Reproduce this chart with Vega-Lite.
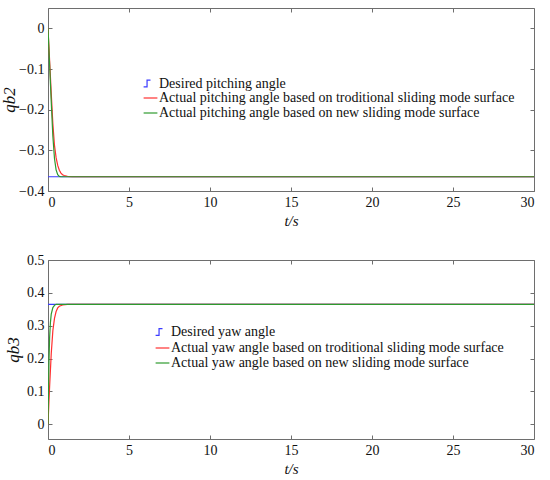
{
  "$schema": "https://vega.github.io/schema/vega-lite/v6.json",
  "background": "white",
  "padding": {"left": 0, "top": 7, "right": 10, "bottom": 5},
  "spacing": 23,
  "datasets": {
    "pitch": [
      {"t": 0, "q": -0.365, "s": "Desired pitching angle"},
      {"t": 30, "q": -0.365, "s": "Desired pitching angle"},
      {"t": 0, "q": 0, "s": "Actual pitching angle based on troditional sliding mode surface", "k": 1},
      {"t": 0.1, "q": -0.08, "s": "Actual pitching angle based on troditional sliding mode surface", "k": 1},
      {"t": 0.2, "q": -0.16, "s": "Actual pitching angle based on troditional sliding mode surface", "k": 1},
      {"t": 0.3, "q": -0.235, "s": "Actual pitching angle based on troditional sliding mode surface", "k": 1},
      {"t": 0.4, "q": -0.288, "s": "Actual pitching angle based on troditional sliding mode surface", "k": 1},
      {"t": 0.5, "q": -0.318, "s": "Actual pitching angle based on troditional sliding mode surface", "k": 1},
      {"t": 0.6, "q": -0.337, "s": "Actual pitching angle based on troditional sliding mode surface", "k": 1},
      {"t": 0.7, "q": -0.349, "s": "Actual pitching angle based on troditional sliding mode surface", "k": 1},
      {"t": 0.8, "q": -0.356, "s": "Actual pitching angle based on troditional sliding mode surface", "k": 1},
      {"t": 0.9, "q": -0.36, "s": "Actual pitching angle based on troditional sliding mode surface", "k": 1},
      {"t": 1.0, "q": -0.362, "s": "Actual pitching angle based on troditional sliding mode surface", "k": 1},
      {"t": 1.2, "q": -0.364, "s": "Actual pitching angle based on troditional sliding mode surface", "k": 1},
      {"t": 1.5, "q": -0.365, "s": "Actual pitching angle based on troditional sliding mode surface", "k": 1},
      {"t": 30, "q": -0.365, "s": "Actual pitching angle based on troditional sliding mode surface", "k": 1},
      {"t": 0, "q": 0, "s": "Actual pitching angle based on new sliding mode surface", "k": 2},
      {"t": 0.1, "q": -0.09, "s": "Actual pitching angle based on new sliding mode surface", "k": 2},
      {"t": 0.2, "q": -0.18, "s": "Actual pitching angle based on new sliding mode surface", "k": 2},
      {"t": 0.3, "q": -0.265, "s": "Actual pitching angle based on new sliding mode surface", "k": 2},
      {"t": 0.4, "q": -0.32, "s": "Actual pitching angle based on new sliding mode surface", "k": 2},
      {"t": 0.5, "q": -0.348, "s": "Actual pitching angle based on new sliding mode surface", "k": 2},
      {"t": 0.6, "q": -0.36, "s": "Actual pitching angle based on new sliding mode surface", "k": 2},
      {"t": 0.7, "q": -0.364, "s": "Actual pitching angle based on new sliding mode surface", "k": 2},
      {"t": 0.8, "q": -0.365, "s": "Actual pitching angle based on new sliding mode surface", "k": 2},
      {"t": 30, "q": -0.365, "s": "Actual pitching angle based on new sliding mode surface", "k": 2}
    ],
    "yaw": [
      {"t": 0, "q": 0.365, "s": "Desired yaw angle"},
      {"t": 30, "q": 0.365, "s": "Desired yaw angle"},
      {"t": 0, "q": 0, "s": "Actual yaw angle based on troditional sliding mode surface", "k": 1},
      {"t": 0.05, "q": 0.06, "s": "Actual yaw angle based on troditional sliding mode surface", "k": 1},
      {"t": 0.1, "q": 0.115, "s": "Actual yaw angle based on troditional sliding mode surface", "k": 1},
      {"t": 0.2, "q": 0.215, "s": "Actual yaw angle based on troditional sliding mode surface", "k": 1},
      {"t": 0.3, "q": 0.285, "s": "Actual yaw angle based on troditional sliding mode surface", "k": 1},
      {"t": 0.4, "q": 0.322, "s": "Actual yaw angle based on troditional sliding mode surface", "k": 1},
      {"t": 0.5, "q": 0.343, "s": "Actual yaw angle based on troditional sliding mode surface", "k": 1},
      {"t": 0.6, "q": 0.354, "s": "Actual yaw angle based on troditional sliding mode surface", "k": 1},
      {"t": 0.7, "q": 0.359, "s": "Actual yaw angle based on troditional sliding mode surface", "k": 1},
      {"t": 0.9, "q": 0.363, "s": "Actual yaw angle based on troditional sliding mode surface", "k": 1},
      {"t": 1.2, "q": 0.365, "s": "Actual yaw angle based on troditional sliding mode surface", "k": 1},
      {"t": 30, "q": 0.365, "s": "Actual yaw angle based on troditional sliding mode surface", "k": 1},
      {"t": 0, "q": 0, "s": "Actual yaw angle based on new sliding mode surface", "k": 2},
      {"t": 0.03, "q": 0.1, "s": "Actual yaw angle based on new sliding mode surface", "k": 2},
      {"t": 0.06, "q": 0.19, "s": "Actual yaw angle based on new sliding mode surface", "k": 2},
      {"t": 0.1, "q": 0.265, "s": "Actual yaw angle based on new sliding mode surface", "k": 2},
      {"t": 0.15, "q": 0.31, "s": "Actual yaw angle based on new sliding mode surface", "k": 2},
      {"t": 0.2, "q": 0.335, "s": "Actual yaw angle based on new sliding mode surface", "k": 2},
      {"t": 0.3, "q": 0.355, "s": "Actual yaw angle based on new sliding mode surface", "k": 2},
      {"t": 0.4, "q": 0.362, "s": "Actual yaw angle based on new sliding mode surface", "k": 2},
      {"t": 0.5, "q": 0.365, "s": "Actual yaw angle based on new sliding mode surface", "k": 2},
      {"t": 30, "q": 0.365, "s": "Actual yaw angle based on new sliding mode surface", "k": 2}
    ]
  },
  "vconcat": [
    {
      "width": 486,
      "height": 183,
      "data": {"name": "pitch"},
      "encoding": {
        "x": {"field": "t", "type": "quantitative", "scale": {"domain": [0, 30], "nice": false}, "axis": null},
        "y": {"field": "q", "type": "quantitative", "scale": {"domain": [-0.4, 0.05], "nice": false, "zero": false}, "axis": null}
      },
      "layer": [
        {
          "transform": [{"filter": "indexof(datum.s, 'Desired') === 0"}],
          "mark": {"type": "line", "strokeWidth": 1.2, "clip": true},
          "encoding": {
            "x": {"field": "t", "type": "quantitative",
              "axis": {"orient": "bottom", "title": "t/s", "values": [0, 5, 10, 15, 20, 25, 30], "titleFontStyle": "italic", "titlePadding": 4}},
            "y": {"field": "q", "type": "quantitative",
              "axis": {"orient": "left", "title": "qb2", "values": [-0.4, -0.3, -0.2, -0.1, 0], "format": "~g", "titleFontStyle": "italic", "titleFontSize": 17, "titlePadding": 0}},
            "color": {"field": "s", "type": "nominal",
              "scale": {"domain": ["Desired pitching angle"], "range": ["#3b3bff"]},
              "legend": {"orient": "none", "legendX": 95, "legendY": 68, "title": null, "symbolType": "M-1,0.5 H-0.5 V-0.5 H0"}}
          }
        },
        {
          "transform": [{"filter": "indexof(datum.s, 'Actual') === 0"}],
          "mark": {"type": "line", "strokeWidth": 1.2, "clip": true},
          "encoding": {
            "color": {"field": "s", "type": "nominal",
              "scale": {"domain": ["Actual pitching angle based on troditional sliding mode surface", "Actual pitching angle based on new sliding mode surface"], "range": ["#ff3030", "#2e9a2e"]},
              "legend": {"orient": "none", "legendX": 95, "legendY": 82.5, "title": null, "symbolType": "stroke"}},
            "order": {"field": "k", "type": "quantitative"}
          }
        },
        {
          "mark": {"type": "line", "opacity": 0},
          "encoding": {
            "x": {"field": "t", "type": "quantitative", "axis": {"orient": "top", "labels": false, "title": null, "values": [0, 5, 10, 15, 20, 25, 30]}},
            "y": {"field": "q", "type": "quantitative", "axis": {"orient": "right", "labels": false, "title": null, "values": [-0.4, -0.3, -0.2, -0.1, 0]}}
          }
        }
      ],
      "resolve": {"axis": {"x": "independent", "y": "independent"}, "scale": {"color": "independent"}, "legend": {"color": "independent"}}
    },
    {
      "width": 486,
      "height": 179,
      "data": {"name": "yaw"},
      "encoding": {
        "x": {"field": "t", "type": "quantitative", "scale": {"domain": [0, 30], "nice": false}, "axis": null},
        "y": {"field": "q", "type": "quantitative", "scale": {"domain": [-0.045, 0.5], "nice": false, "zero": false}, "axis": null}
      },
      "layer": [
        {
          "transform": [{"filter": "indexof(datum.s, 'Desired') === 0"}],
          "mark": {"type": "line", "strokeWidth": 1.2, "clip": true},
          "encoding": {
            "x": {"field": "t", "type": "quantitative",
              "axis": {"orient": "bottom", "title": "t/s", "values": [0, 5, 10, 15, 20, 25, 30], "titleFontStyle": "italic", "titlePadding": 4}},
            "y": {"field": "q", "type": "quantitative",
              "axis": {"orient": "left", "title": "qb3", "values": [0, 0.1, 0.2, 0.3, 0.4, 0.5], "format": "~g", "titleFontStyle": "italic", "titleFontSize": 17, "titlePadding": 4}},
            "color": {"field": "s", "type": "nominal",
              "scale": {"domain": ["Desired yaw angle"], "range": ["#3b3bff"]},
              "legend": {"orient": "none", "legendX": 107, "legendY": 64.5, "title": null, "symbolType": "M-1,0.5 H-0.5 V-0.5 H0"}}
          }
        },
        {
          "transform": [{"filter": "indexof(datum.s, 'Actual') === 0"}],
          "mark": {"type": "line", "strokeWidth": 1.2, "clip": true},
          "encoding": {
            "color": {"field": "s", "type": "nominal",
              "scale": {"domain": ["Actual yaw angle based on troditional sliding mode surface", "Actual yaw angle based on new sliding mode surface"], "range": ["#ff3030", "#2e9a2e"]},
              "legend": {"orient": "none", "legendX": 107, "legendY": 80.5, "title": null, "symbolType": "stroke"}},
            "order": {"field": "k", "type": "quantitative"}
          }
        },
        {
          "mark": {"type": "line", "opacity": 0},
          "encoding": {
            "x": {"field": "t", "type": "quantitative", "axis": {"orient": "top", "labels": false, "title": null, "values": [0, 5, 10, 15, 20, 25, 30]}},
            "y": {"field": "q", "type": "quantitative", "axis": {"orient": "right", "labels": false, "title": null, "values": [0, 0.1, 0.2, 0.3, 0.4, 0.5]}}
          }
        }
      ],
      "resolve": {"axis": {"x": "independent", "y": "independent"}, "scale": {"color": "independent"}, "legend": {"color": "independent"}}
    }
  ],
  "resolve": {"scale": {"color": "independent"}, "legend": {"color": "independent"}},
  "config": {
    "font": "Liberation Serif",
    "view": {"stroke": "#6e6e6e", "strokeWidth": 1},
    "axis": {
      "grid": false,
      "domain": false,
      "tickColor": "#6e6e6e",
      "tickSize": -4,
      "labelPadding": 8,
      "labelFont": "Liberation Serif",
      "labelFontSize": 14,
      "labelColor": "#111",
      "titleFont": "Liberation Serif",
      "titleFontSize": 15,
      "titleFontWeight": "normal",
      "titleColor": "#111"
    },
    "legend": {
      "labelFont": "Liberation Serif",
      "labelFontSize": 14,
      "labelColor": "#111",
      "labelLimit": 500,
      "symbolSize": 190,
      "symbolStrokeWidth": 1.3,
      "rowPadding": -1.5,
      "labelOffset": 1
    },
    "line": {"strokeWidth": 1.2}
  }
}
